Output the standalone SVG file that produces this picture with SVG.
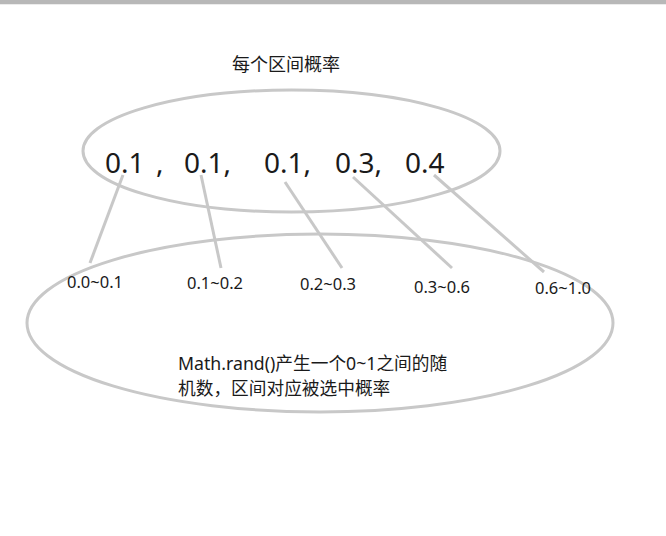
<svg xmlns="http://www.w3.org/2000/svg" width="666" height="536" viewBox="0 0 666 536">
<style>
.shape{fill:none;stroke:#c8c8c8;stroke-width:3}
.conn{stroke:#c8c8c8;stroke-width:3;fill:none}
.t{font-family:"Noto Sans","Noto Sans CJK SC",sans-serif;fill:#1a1a1a}
.big{font-size:28px}
.lbl{font-size:16.5px}
.cn{font-size:17.7px}
.ttl{font-size:18px}
</style>
<rect x="0" y="0" width="666" height="536" fill="#ffffff"/>
<rect x="0" y="0" width="666" height="4" fill="#b8b8b8"/>
<rect x="0" y="4" width="666" height="1" fill="#ececec"/>
<g id="title"><text class="t ttl" x="232" y="71">每个区间概率</text></g>
<g id="connectors">
<line class="conn" x1="123" y1="175" x2="90" y2="263"/>
<line class="conn" x1="201" y1="175" x2="221" y2="268"/>
<line class="conn" x1="285" y1="182" x2="342" y2="268"/>
<line class="conn" x1="353" y1="177" x2="452" y2="268"/>
<line class="conn" x1="434" y1="175" x2="544" y2="272"/>
</g>
<g id="probabilities">
<ellipse class="shape" cx="291.5" cy="151" rx="208.5" ry="61"/>
<text class="t big" y="173"><tspan x="105">0.1</tspan><tspan x="156">,</tspan><tspan x="184">0.1,</tspan><tspan x="264">0.1,</tspan><tspan x="335">0.3,</tspan><tspan x="405">0.4</tspan></text>
</g>
<g id="intervals">
<ellipse class="shape" cx="320" cy="323" rx="293" ry="89"/>
<text class="t lbl" x="67" y="288">0.0~0.1</text>
<text class="t lbl" x="187" y="289">0.1~0.2</text>
<text class="t lbl" x="300" y="290">0.2~0.3</text>
<text class="t lbl" x="414" y="293">0.3~0.6</text>
<text class="t lbl" x="535" y="294">0.6~1.0</text>
<text class="t cn" x="178" y="370">Math.rand()产生一个0~1之间的随</text>
<text class="t cn" x="178" y="395">机数，区间对应被选中概率</text>
</g>
</svg>
